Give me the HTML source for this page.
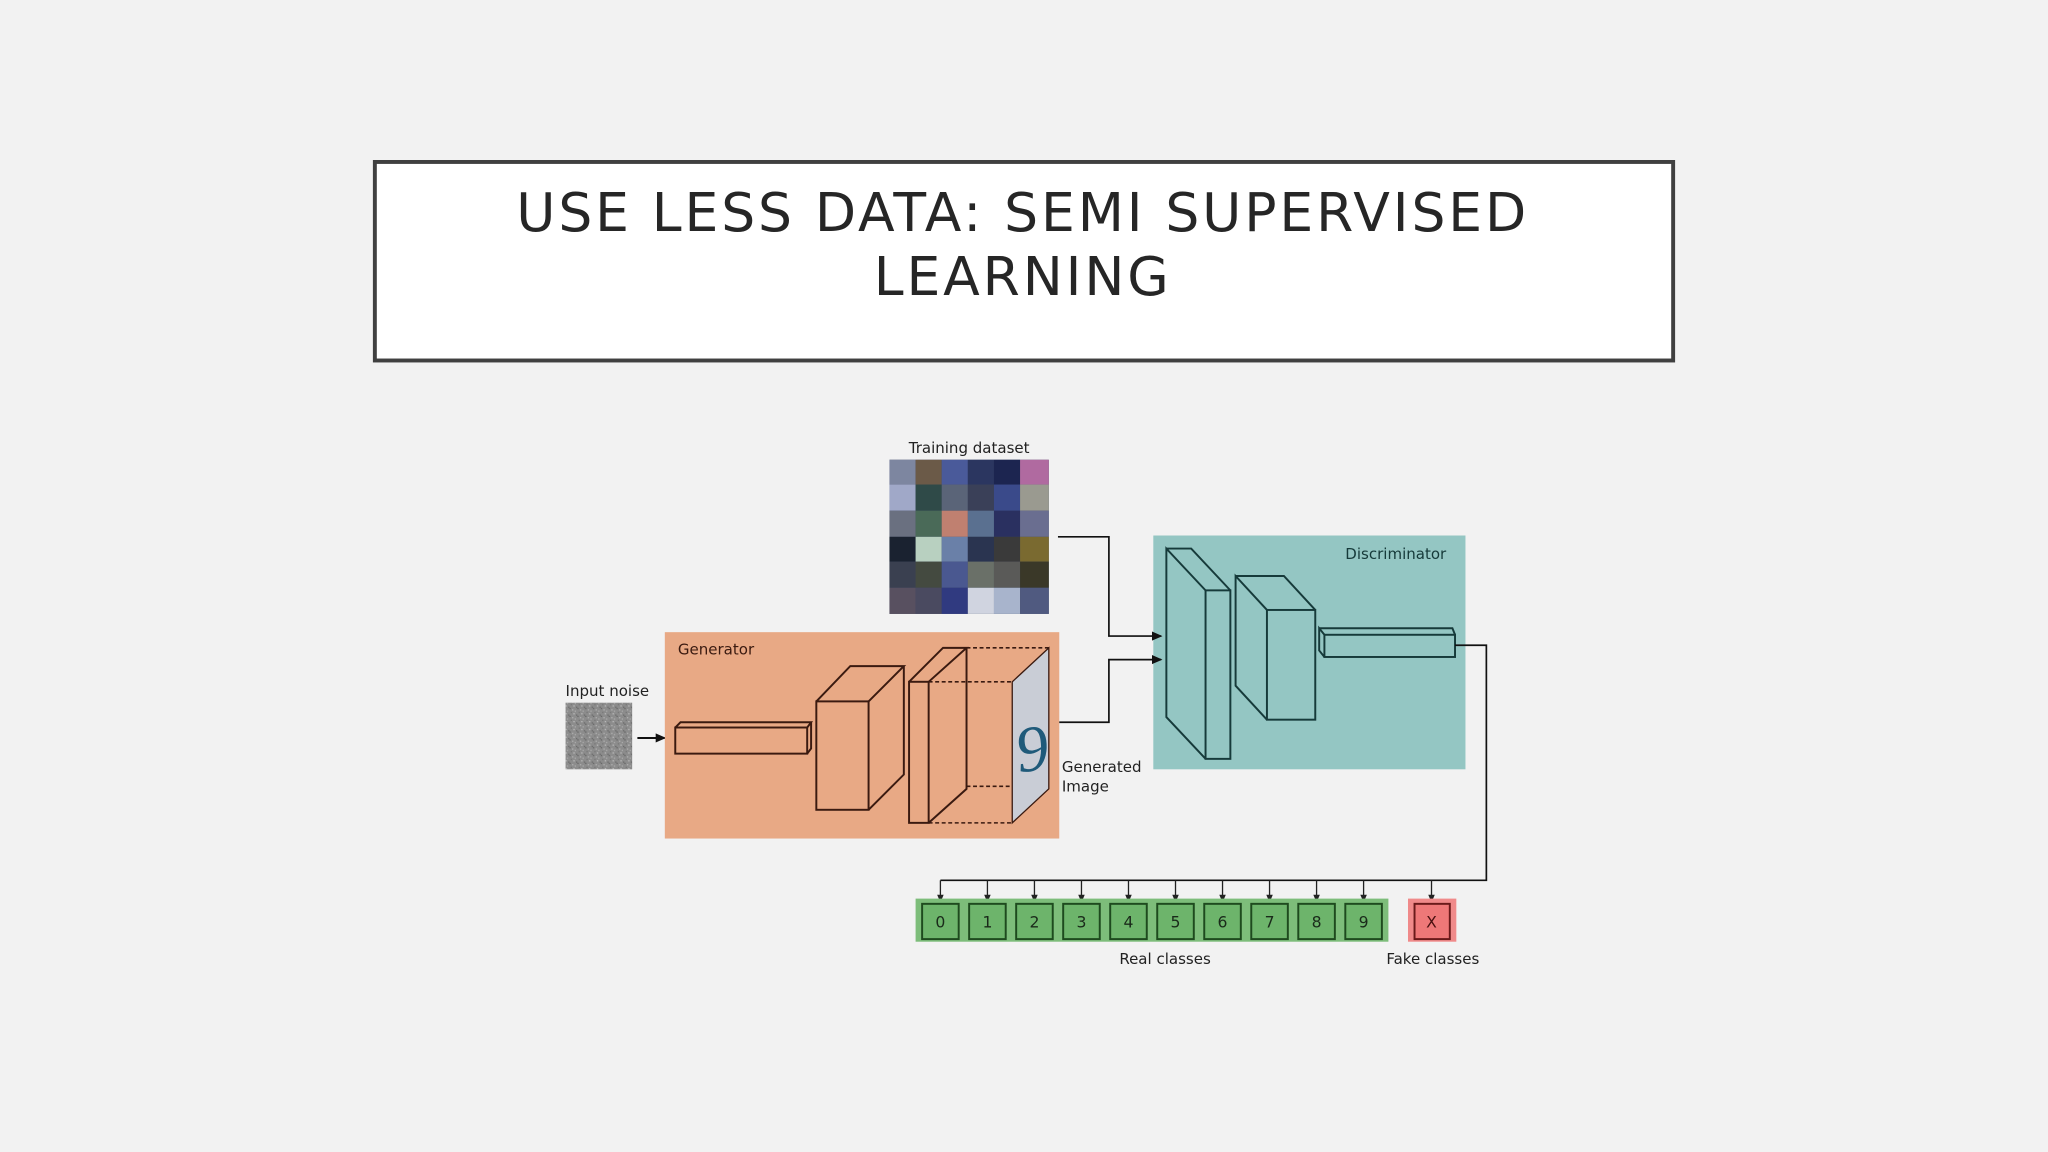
<!DOCTYPE html>
<html><head><meta charset="utf-8"><style>
html,body{margin:0;padding:0;background:#f2f2f2;}
svg{display:block;}
</style></head><body>
<svg width="2048" height="1152" viewBox="0 0 1568 882" xmlns="http://www.w3.org/2000/svg" font-family="'DejaVu Sans','Liberation Sans',sans-serif">
<defs>
<marker id="ar" markerWidth="8" markerHeight="8" refX="7" refY="4" orient="auto" markerUnits="userSpaceOnUse"><path d="M0,0.5 L8,4 L0,7.5 z" fill="#111"/></marker>
<marker id="as" markerWidth="6" markerHeight="6" refX="5" refY="3" orient="auto" markerUnits="userSpaceOnUse"><path d="M0,0.5 L6,3 L0,5.5 z" fill="#222"/></marker>
<pattern id="noise" width="6" height="6" patternUnits="userSpaceOnUse">
<rect width="6" height="6" fill="#8c8c8c"/><rect x="1" y="0" width="1" height="1" fill="#bbb"/><rect x="4" y="2" width="1" height="1" fill="#666"/><rect x="2" y="4" width="1" height="1" fill="#aaa"/><rect x="5" y="5" width="1" height="1" fill="#777"/><rect x="0" y="3" width="1" height="1" fill="#b0b0b0"/><rect x="3" y="1" width="1" height="1" fill="#6a6a6a"/>
</pattern>
</defs>
<rect width="1568" height="882" fill="#f2f2f2"/>
<!-- title -->
<rect x="287" y="124" width="994" height="152" fill="#fff" stroke="#404040" stroke-width="3"/>
<g font-family="'DejaVu Sans','Liberation Sans',sans-serif" font-size="41" fill="#262626" text-anchor="middle" letter-spacing="2.2">
<text x="783" y="177">USE LESS DATA: SEMI SUPERVISED</text>
<text x="783" y="226">LEARNING</text>
</g>
<!-- training grid -->
<g>
<rect x="681" y="352" width="122" height="118" fill="#3a4560"/>
<rect x="681" y="352" width="20" height="19" fill="#7d86a0"/><rect x="701" y="352" width="20" height="19" fill="#6b5a48"/><rect x="721" y="352" width="20" height="19" fill="#4a5a9a"/><rect x="741" y="352" width="20" height="19" fill="#2b3660"/><rect x="761" y="352" width="20" height="19" fill="#1c2550"/><rect x="781" y="352" width="22" height="19" fill="#b06aa0"/>
<rect x="681" y="371" width="20" height="20" fill="#a0a8c8"/><rect x="701" y="371" width="20" height="20" fill="#2f4a48"/><rect x="721" y="371" width="20" height="20" fill="#5a6478"/><rect x="741" y="371" width="20" height="20" fill="#3a4058"/><rect x="761" y="371" width="20" height="20" fill="#3a4a8a"/><rect x="781" y="371" width="22" height="20" fill="#9a9a90"/>
<rect x="681" y="391" width="20" height="20" fill="#6a7080"/><rect x="701" y="391" width="20" height="20" fill="#4a6a58"/><rect x="721" y="391" width="20" height="20" fill="#c08070"/><rect x="741" y="391" width="20" height="20" fill="#5a7090"/><rect x="761" y="391" width="20" height="20" fill="#2a3060"/><rect x="781" y="391" width="22" height="20" fill="#6a6e90"/>
<rect x="681" y="411" width="20" height="19" fill="#1a2230"/><rect x="701" y="411" width="20" height="19" fill="#b8d0c0"/><rect x="721" y="411" width="20" height="19" fill="#6a80a8"/><rect x="741" y="411" width="20" height="19" fill="#2a3450"/><rect x="761" y="411" width="20" height="19" fill="#3a3a3a"/><rect x="781" y="411" width="22" height="19" fill="#7a6a30"/>
<rect x="681" y="430" width="20" height="20" fill="#3a4050"/><rect x="701" y="430" width="20" height="20" fill="#444a40"/><rect x="721" y="430" width="20" height="20" fill="#4a5890"/><rect x="741" y="430" width="20" height="20" fill="#6a7068"/><rect x="761" y="430" width="20" height="20" fill="#5a5a58"/><rect x="781" y="430" width="22" height="20" fill="#3a3828"/>
<rect x="681" y="450" width="20" height="20" fill="#585060"/><rect x="701" y="450" width="20" height="20" fill="#4a4a60"/><rect x="721" y="450" width="20" height="20" fill="#303a80"/><rect x="741" y="450" width="20" height="20" fill="#d0d4e0"/><rect x="761" y="450" width="20" height="20" fill="#a8b4cc"/><rect x="781" y="450" width="22" height="20" fill="#505a80"/>
</g>
<!-- noise -->
<rect x="433" y="538" width="51" height="51" fill="url(#noise)"/>
<line x1="488" y1="565" x2="509" y2="565" stroke="#111" stroke-width="1.5" marker-end="url(#ar)"/>
<!-- generator -->
<rect x="509" y="484" width="302" height="158" fill="#e8a985"/>
<g fill="none" stroke="#3a1a10" stroke-width="1.5">
<rect x="517" y="557" width="101" height="20"/>
<path d="M517,557 L521,553 L621,553 L618,557 M621,553 L621,573 L618,577"/>
<rect x="625" y="537" width="40" height="83"/>
<path d="M625,537 L651,510 L692,510 L665,537 M692,510 L692,593 L665,620"/>
<rect x="696" y="522" width="15" height="108"/>
<path d="M696,522 L722,496 L740,496 L711,522 M740,496 L740,604 L711,630"/>
</g>
<g fill="none" stroke="#3a1a10" stroke-width="1.2" stroke-dasharray="3,2">
<path d="M740,496 L803,496 M711,522 L775,522 M711,630 L775,630 M740,602 L775,602"/>
</g>
<path d="M775,522 L803,496 L803,604 L775,630 z" fill="#c9cdd6" stroke="#3a1a10" stroke-width="1"/>
<text x="789" y="590" font-size="50" fill="#1f5a7a" text-anchor="middle" transform="rotate(-8 789 565)" font-family="'Liberation Serif',serif" font-style="italic">9</text>
<!-- discriminator -->
<rect x="883" y="410" width="239" height="179" fill="#94c6c3"/>
<g fill="none" stroke="#163a3a" stroke-width="1.5">
<rect x="923" y="452" width="19" height="129"/>
<path d="M923,452 L893,420 L893,549 L923,581 M893,420 L912,420 L942,452"/>
<rect x="970" y="467" width="37" height="84"/>
<path d="M970,467 L946,441 L946,525 L970,551 M946,441 L983,441 L1007,467"/>
<rect x="1014" y="486" width="100" height="17"/>
<path d="M1014,486 L1010,481 L1010,498 L1014,503 M1010,481 L1112,481 L1114,486"/>
</g>
<!-- connectors -->
<g fill="none" stroke="#111" stroke-width="1.3">
<path d="M810,411 L849,411 L849,487 L889,487" marker-end="url(#ar)"/>
<path d="M811,553 L849,553 L849,505 L889,505" marker-end="url(#ar)"/>
<path d="M1114,494 L1138,494 L1138,674 L720,674"/>
</g>
<g stroke="#222" stroke-width="1" marker-end="url(#as)">
<line x1="720" y1="674" x2="720" y2="690"/><line x1="756" y1="674" x2="756" y2="690"/><line x1="792" y1="674" x2="792" y2="690"/><line x1="828" y1="674" x2="828" y2="690"/><line x1="864" y1="674" x2="864" y2="690"/><line x1="900" y1="674" x2="900" y2="690"/><line x1="936" y1="674" x2="936" y2="690"/><line x1="972" y1="674" x2="972" y2="690"/><line x1="1008" y1="674" x2="1008" y2="690"/><line x1="1044" y1="674" x2="1044" y2="690"/><line x1="1096" y1="674" x2="1096" y2="690"/>
</g>
<!-- classes -->
<rect x="701" y="688" width="362" height="33" fill="#7dbd7a"/>
<g fill="#6db46b" stroke="#1e4a1e" stroke-width="1.5">
<rect x="706" y="692" width="28" height="27"/><rect x="742" y="692" width="28" height="27"/><rect x="778" y="692" width="28" height="27"/><rect x="814" y="692" width="28" height="27"/><rect x="850" y="692" width="28" height="27"/><rect x="886" y="692" width="28" height="27"/><rect x="922" y="692" width="28" height="27"/><rect x="958" y="692" width="28" height="27"/><rect x="994" y="692" width="28" height="27"/><rect x="1030" y="692" width="28" height="27"/>
</g>
<rect x="1078" y="688" width="37" height="33" fill="#f08a8a"/>
<rect x="1083" y="692" width="27" height="27" fill="#ee7878" stroke="#6a1a1a" stroke-width="1.5"/>
<g font-size="12" fill="#1a2a1a" text-anchor="middle">
<text x="720" y="710">0</text><text x="756" y="710">1</text><text x="792" y="710">2</text><text x="828" y="710">3</text><text x="864" y="710">4</text><text x="900" y="710">5</text><text x="936" y="710">6</text><text x="972" y="710">7</text><text x="1008" y="710">8</text><text x="1044" y="710">9</text><text x="1096" y="710" fill="#4a1010">X</text>
</g>
<!-- labels -->
<g font-size="11.5" fill="#222">
<text x="742" y="347" text-anchor="middle">Training dataset</text>
<text x="465" y="533" text-anchor="middle">Input noise</text>
<text x="519" y="501" fill="#3a1a10">Generator</text>
<text x="1030" y="428" fill="#163a3a">Discriminator</text>
<text x="813" y="591">Generated</text>
<text x="813" y="606">Image</text>
<text x="892" y="738" text-anchor="middle">Real classes</text>
<text x="1097" y="738" text-anchor="middle">Fake classes</text>
</g>
</svg>
</body></html>
